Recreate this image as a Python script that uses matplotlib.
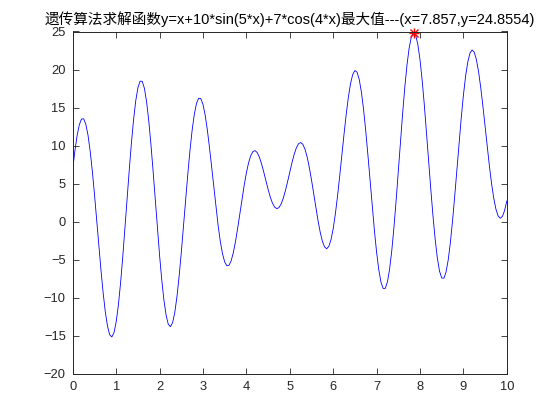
import matplotlib
matplotlib.use("Agg")
import matplotlib.pyplot as plt
import numpy as np

# samples, x = 0, 0.05, ..., 10
x_step = 0.05
y_vals = [
    7.000, 9.384, 11.342, 12.743, 13.492, 13.522, 12.812, 11.380, 9.289, 6.641,
    3.572, 0.247, -3.151, -6.430, -9.403, -11.896, -13.756, -14.868, -15.153, -14.580,
    -13.164, -10.971, -8.106, -4.718, -0.981, 2.904, 6.731, 10.293, 13.399, 15.880,
    17.601, 18.472, 18.446, 17.528, 15.771, 13.274, 10.180, 6.659, 2.907, -0.867,
    -4.459, -7.671, -10.332, -12.301, -13.478, -13.806, -13.279, -11.935, -9.859, -7.174,
    -4.037, -0.624, 2.875, 6.269, 9.378, 12.041, 14.127, 15.540, 16.227, 16.173,
    15.410, 14.006, 12.068, 9.726, 7.131, 4.443, 1.823, -0.579, -2.632, -4.230,
    -5.299, -5.800, -5.729, -5.118, -4.033, -2.562, -0.817, 1.077, 2.996, 4.816,
    6.425, 7.735, 8.678, 9.217, 9.342, 9.075, 8.465, 7.585, 6.522, 5.376,
    4.250, 3.243, 2.442, 1.916, 1.711, 1.847, 2.318, 3.091, 4.106, 5.284,
    6.533, 7.750, 8.834, 9.687, 10.232, 10.405, 10.173, 9.527, 8.492, 7.121,
    5.492, 3.708, 1.886, 0.151, -1.370, -2.559, -3.315, -3.560, -3.244, -2.354,
    -0.911, 1.027, 3.372, 6.002, 8.776, 11.536, 14.124, 16.381, 18.164, 19.356,
    19.867, 19.649, 18.691, 17.028, 14.737, 11.931, 8.757, 5.386, 2.007, -1.190,
    -4.020, -6.316, -7.935, -8.775, -8.773, -7.912, -6.226, -3.793, -0.734, 2.792,
    6.602, 10.491, 14.252, 17.680, 20.593, 22.832, 24.276, 24.847, 24.519, 23.310,
    21.290, 18.576, 15.317, 11.696, 7.913, 4.177, 0.692, -2.352, -4.794, -6.506,
    -7.401, -7.440, -6.631, -5.030, -2.734, 0.122, 3.373, 6.836, 10.320, 13.638,
    16.613, 19.095, 20.965, 22.138, 22.574, 22.276, 21.288, 19.691, 17.602, 15.156,
    12.513, 9.830, 7.267, 4.968, 3.059, 1.631, 0.751, 0.445, 0.702, 1.482,
    2.708,
]

# best point found by the GA (from the title)
best_x = 7.857
best_y = 24.8554

x_ticks = [0, 1, 2, 3, 4, 5, 6, 7, 8, 9, 10]
y_ticks = [-20, -15, -10, -5, 0, 5, 10, 15, 20, 25]

title = "遗传算法求解函数y=x+10*sin(5*x)+7*cos(4*x)最大值---(x=7.857,y=24.8554)"

xs = np.round(np.arange(len(y_vals)) * x_step, 2)
ys = np.array(y_vals)
k = np.searchsorted(xs, best_x)
xs = np.insert(xs, k, best_x)
ys = np.insert(ys, k, best_y)

plt.rcParams['font.family'] = ['Liberation Sans', 'Noto Sans CJK SC', 'DejaVu Sans']
axis_col = '#262626'

fig = plt.figure(figsize=(5.6, 4.2), dpi=100, facecolor='white')
ax = fig.add_axes([0.13, 0.11, 0.775, 0.815])

ax.plot(xs, ys, color='#0000ff', linewidth=0.6)
# matlab style asterisk: a plus and a cross on top of each other
ax.plot([best_x], [best_y], marker='+', color='red', markersize=7, mew=1.0,
        linestyle='none', clip_on=False)
ax.plot([best_x], [best_y], marker='x', color='red', markersize=5.5, mew=1.0,
        linestyle='none', clip_on=False)

ax.set_xlim(0, 10)
ax.set_ylim(-20, 25)
ax.set_xticks(x_ticks)
ax.set_yticks(y_ticks)
ax.tick_params(direction='in', length=4, width=0.6, colors=axis_col, labelsize=9.3,
               top=True, right=True, pad=5)
for sp in ax.spines.values():
    sp.set_color(axis_col)
    sp.set_linewidth(0.7)

ax.set_title(title, fontsize=10.5, color='black', pad=5.5)

fig.savefig("out.png", dpi=100, facecolor='white')
plt.close(fig)
